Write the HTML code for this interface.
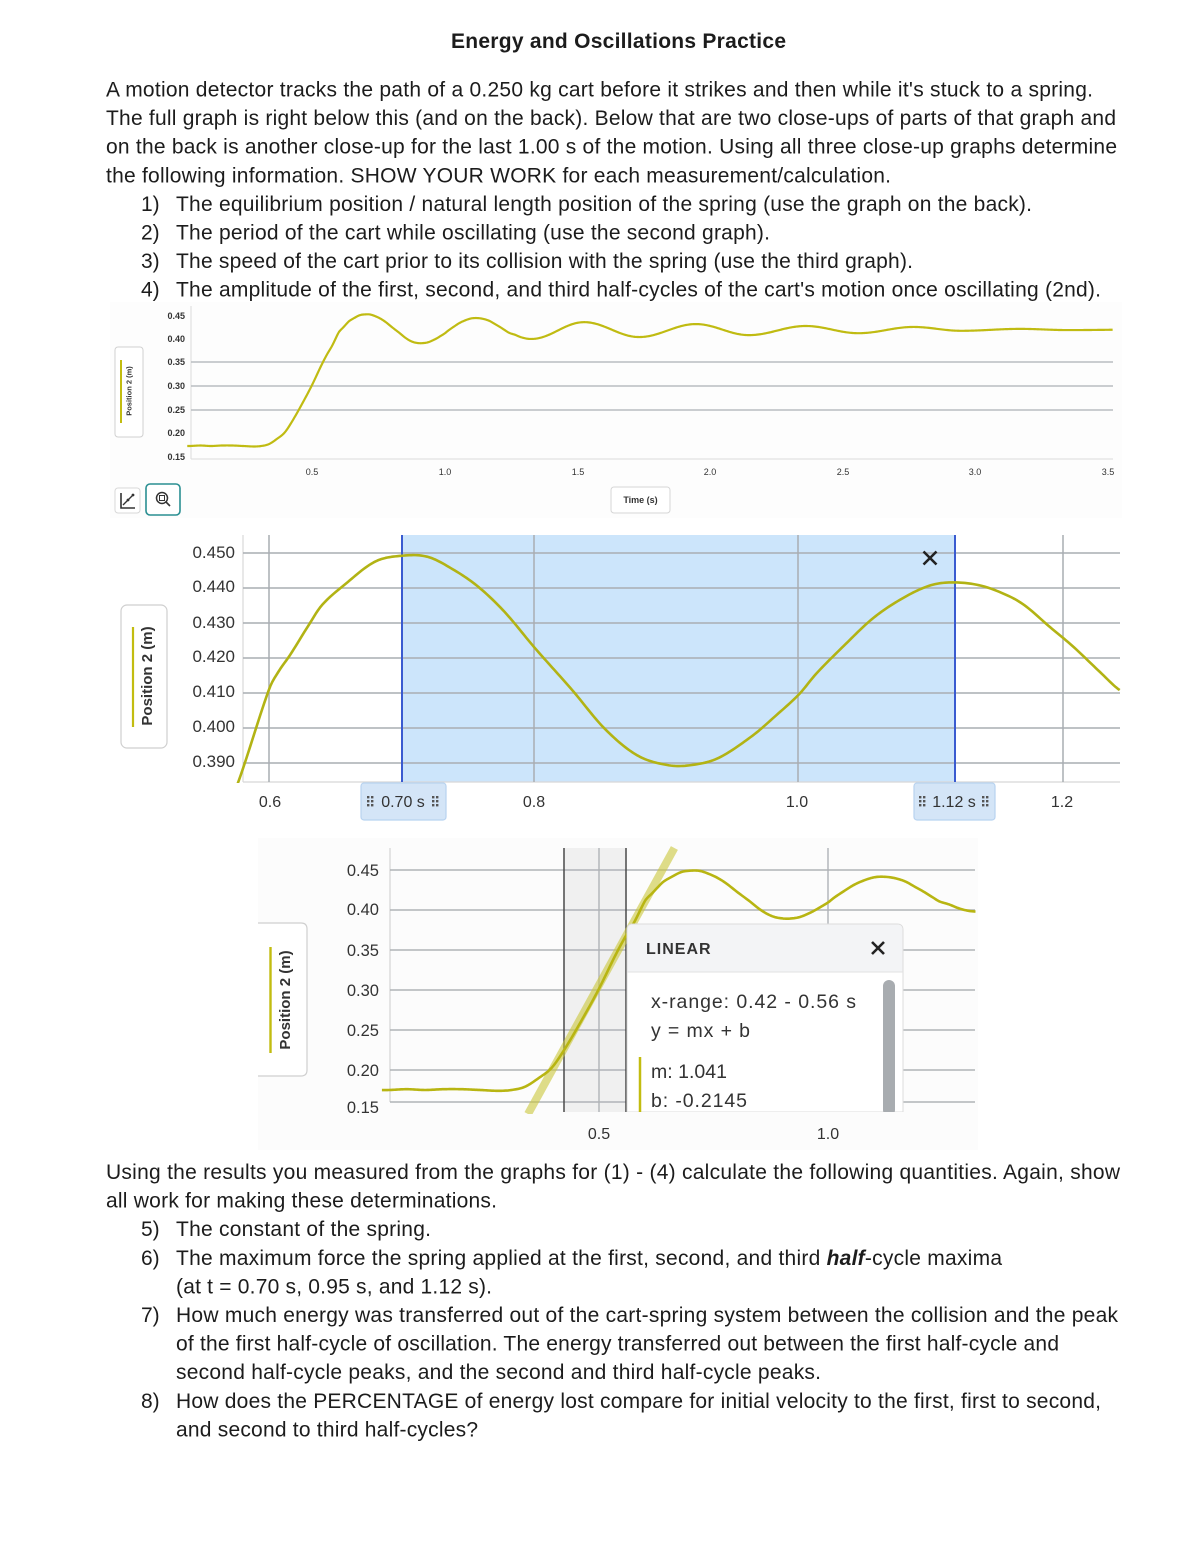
<!DOCTYPE html>
<html>
<head>
<meta charset="utf-8">
<style>
html,body{margin:0;padding:0;background:#fff;}
body{width:1200px;height:1553px;overflow:hidden;position:relative;}
svg{position:absolute;left:0;top:0;}
.t{font-family:"Liberation Sans",Arial,sans-serif;font-size:21px;fill:#1c1c1c;}
.tk{font-family:"Liberation Sans",Arial,sans-serif;fill:#333;}
</style>
</head>
<body>
<svg id="pg" width="1200" height="1553" viewBox="0 0 1200 1553" xmlns="http://www.w3.org/2000/svg">
<defs>
  <clipPath id="c1"><rect x="187" y="300" width="927" height="162"/></clipPath>
  <clipPath id="c2"><rect x="236" y="535" width="885" height="248"/></clipPath>
  <clipPath id="c3"><rect x="380" y="846" width="596" height="268"/></clipPath>
</defs>

<!-- ===== TEXT TOP ===== -->
<text class="t" x="451" y="48" font-size="20" font-weight="bold" textLength="335" lengthAdjust="spacing">Energy and Oscillations Practice</text>
<text class="t" x="106" y="96.5" textLength="987" lengthAdjust="spacing">A motion detector tracks the path of a 0.250 kg cart before it strikes and then while it's stuck to a spring.</text>
<text class="t" x="106" y="125.1" textLength="1010" lengthAdjust="spacing">The full graph is right below this (and on the back). Below that are two close-ups of parts of that graph and</text>
<text class="t" x="106" y="153.7" textLength="1011" lengthAdjust="spacing">on the back is another close-up for the last 1.00 s of the motion. Using all three close-up graphs determine</text>
<text class="t" x="106" y="182.3" textLength="785" lengthAdjust="spacing">the following information. SHOW YOUR WORK for each measurement/calculation.</text>
<text class="t" x="141" y="210.9">1)</text>
<text class="t" x="176" y="210.9" textLength="856" lengthAdjust="spacing">The equilibrium position / natural length position of the spring (use the graph on the back).</text>
<text class="t" x="141" y="239.5">2)</text>
<text class="t" x="176" y="239.5" textLength="594" lengthAdjust="spacing">The period of the cart while oscillating (use the second graph).</text>
<text class="t" x="141" y="268.1">3)</text>
<text class="t" x="176" y="268.1" textLength="737" lengthAdjust="spacing">The speed of the cart prior to its collision with the spring (use the third graph).</text>
<text class="t" x="141" y="296.7">4)</text>
<text class="t" x="176" y="296.7" textLength="925" lengthAdjust="spacing">The amplitude of the first, second, and third half-cycles of the cart's motion once oscillating (2nd).</text>

<!-- ===== CHART 1 (full graph) ===== -->
<g>
  <rect x="110" y="302" width="1012" height="216" fill="#fdfdfd"/>
  <line x1="191" y1="306" x2="191" y2="459" stroke="#dcdcdc" stroke-width="1"/>
  <line x1="191" y1="459" x2="1113" y2="459" stroke="#dcdcdc" stroke-width="1"/>
  <line x1="191" y1="362" x2="1113" y2="362" stroke="#b9bdc2" stroke-width="1.6"/>
  <line x1="191" y1="386" x2="1113" y2="386" stroke="#b9bdc2" stroke-width="1.6"/>
  <line x1="191" y1="410" x2="1113" y2="410" stroke="#b9bdc2" stroke-width="1.6"/>
  <g class="tk" font-size="9" font-weight="bold" fill="#666" text-anchor="end">
    <text x="185" y="319">0.45</text>
    <text x="185" y="342">0.40</text>
    <text x="185" y="365">0.35</text>
    <text x="185" y="389">0.30</text>
    <text x="185" y="413">0.25</text>
    <text x="185" y="436">0.20</text>
    <text x="185" y="460">0.15</text>
  </g>
  <g class="tk" font-size="9" fill="#888" text-anchor="middle">
    <text x="312" y="475">0.5</text>
    <text x="445" y="475">1.0</text>
    <text x="578" y="475">1.5</text>
    <text x="710" y="475">2.0</text>
    <text x="843" y="475">2.5</text>
    <text x="975" y="475">3.0</text>
    <text x="1108" y="475">3.5</text>
  </g>
  <!-- legend -->
  <rect x="115" y="347" width="28" height="90" rx="3" fill="#fff" stroke="#d0d0d0" stroke-width="1"/>
  <line x1="121" y1="360" x2="121" y2="423" stroke="#c2bc10" stroke-width="2"/>
  <text class="tk" font-size="7.5" font-weight="bold" fill="#444" text-anchor="middle" transform="translate(131.5,391) rotate(-90)">Position 2 (m)</text>
  <!-- toolbar -->
  <rect x="115" y="488" width="25" height="25" rx="3" fill="#fff" stroke="#d8d8d8"/>
  <path d="M121 493 V508 H135" stroke="#333" stroke-width="1.6" fill="none"/>
  <path d="M123 505 L128 500 L133 495" stroke="#333" stroke-width="1.4" fill="none"/>
  <circle cx="128" cy="500" r="1.4" fill="#333"/><circle cx="133" cy="495" r="1.4" fill="#333"/>
  <rect x="146" y="484" width="34" height="31" rx="4" fill="#fff" stroke="#2a8f92" stroke-width="1.6"/>
  <circle cx="162" cy="498" r="5.5" stroke="#333" stroke-width="1.5" fill="none"/>
  <rect x="159.5" y="495.5" width="5" height="5" stroke="#333" stroke-width="1" fill="none"/>
  <line x1="166" y1="502" x2="170" y2="506" stroke="#333" stroke-width="1.6"/>
  <rect x="611" y="487" width="59" height="26" rx="3" fill="#fff" stroke="#d6d6d6"/>
  <text class="tk" x="640.5" y="503" font-size="9" font-weight="bold" fill="#333" text-anchor="middle">Time (s)</text>
  <path id="p1" d="" fill="none" stroke="#c0bb12" stroke-width="2.2" clip-path="url(#c1)" stroke-linejoin="round"/>
</g>

<!-- ===== CHART 2 ===== -->
<g>
  <rect x="402" y="535" width="553" height="247" fill="#cce5fb"/>
  <line x1="243" y1="535" x2="243" y2="782" stroke="#d8d8d8" stroke-width="1.2"/>
  <line x1="243" y1="782" x2="1120" y2="782" stroke="#d8d8d8" stroke-width="1.2"/>
  <g stroke="#a9adb2" stroke-width="1.5">
    <line x1="243" y1="553" x2="1120" y2="553"/>
    <line x1="243" y1="588" x2="1120" y2="588"/>
    <line x1="243" y1="623" x2="1120" y2="623"/>
    <line x1="243" y1="658" x2="1120" y2="658"/>
    <line x1="243" y1="693" x2="1120" y2="693"/>
    <line x1="243" y1="728" x2="1120" y2="728"/>
    <line x1="243" y1="763" x2="1120" y2="763"/>
    <line x1="269" y1="535" x2="269" y2="782"/>
    <line x1="534" y1="535" x2="534" y2="782"/>
    <line x1="798" y1="535" x2="798" y2="782"/>
    <line x1="1063" y1="535" x2="1063" y2="782"/>
  </g>
  <line x1="402" y1="535" x2="402" y2="782" stroke="#3a5bd0" stroke-width="2"/>
  <line x1="955" y1="535" x2="955" y2="782" stroke="#3a5bd0" stroke-width="2"/>
  <g class="tk" font-size="17" text-anchor="end">
    <text x="235" y="558">0.450</text>
    <text x="235" y="592">0.440</text>
    <text x="235" y="628">0.430</text>
    <text x="235" y="662">0.420</text>
    <text x="235" y="697">0.410</text>
    <text x="235" y="732">0.400</text>
    <text x="235" y="767">0.390</text>
  </g>
  <g class="tk" font-size="16" text-anchor="middle">
    <text x="270" y="807">0.6</text>
    <text x="534" y="807">0.8</text>
    <text x="797" y="807">1.0</text>
    <text x="1062" y="807">1.2</text>
  </g>
  <!-- marker labels -->
  <rect x="361" y="783" width="85" height="37" rx="3" fill="#d4e5f7" stroke="#b8d3f0" stroke-width="1.2"/>
  <g fill="#555">
    <rect x="367" y="796" width="2.4" height="2.4"/><rect x="371" y="796" width="2.4" height="2.4"/>
    <rect x="367" y="800" width="2.4" height="2.4"/><rect x="371" y="800" width="2.4" height="2.4"/>
    <rect x="367" y="804" width="2.4" height="2.4"/><rect x="371" y="804" width="2.4" height="2.4"/>
    <rect x="432" y="796" width="2.4" height="2.4"/><rect x="436" y="796" width="2.4" height="2.4"/>
    <rect x="432" y="800" width="2.4" height="2.4"/><rect x="436" y="800" width="2.4" height="2.4"/>
    <rect x="432" y="804" width="2.4" height="2.4"/><rect x="436" y="804" width="2.4" height="2.4"/>
  </g>
  <text class="tk" x="403" y="807" font-size="16" text-anchor="middle">0.70 s</text>
  <rect x="914" y="783" width="81" height="37" rx="3" fill="#d4e5f7" stroke="#b8d3f0" stroke-width="1.2"/>
  <g fill="#555">
    <rect x="919" y="796" width="2.4" height="2.4"/><rect x="923" y="796" width="2.4" height="2.4"/>
    <rect x="919" y="800" width="2.4" height="2.4"/><rect x="923" y="800" width="2.4" height="2.4"/>
    <rect x="919" y="804" width="2.4" height="2.4"/><rect x="923" y="804" width="2.4" height="2.4"/>
    <rect x="982" y="796" width="2.4" height="2.4"/><rect x="986" y="796" width="2.4" height="2.4"/>
    <rect x="982" y="800" width="2.4" height="2.4"/><rect x="986" y="800" width="2.4" height="2.4"/>
    <rect x="982" y="804" width="2.4" height="2.4"/><rect x="986" y="804" width="2.4" height="2.4"/>
  </g>
  <text class="tk" x="954" y="807" font-size="16" text-anchor="middle">1.12 s</text>
  <!-- close X -->
  <path d="M923.5 551.5 L936.5 564.5 M936.5 551.5 L923.5 564.5" stroke="#222" stroke-width="2.6"/>
  <!-- legend -->
  <rect x="121" y="605" width="46" height="143" rx="6" fill="#fff" stroke="#cfcfcf" stroke-width="1.2"/>
  <line x1="133" y1="627" x2="133" y2="727" stroke="#c2bc10" stroke-width="2.2"/>
  <text class="tk" font-size="15" font-weight="bold" fill="#333" text-anchor="middle" transform="translate(152,676) rotate(-90)">Position 2 (m)</text>
  <path id="p2" d="" fill="none" stroke="#b2b314" stroke-width="2.6" clip-path="url(#c2)" stroke-linejoin="round"/>
</g>

<!-- ===== CHART 3 ===== -->
<g>
  <rect x="258" y="838" width="720" height="312" fill="#fcfcfc"/>
  <rect x="564" y="848" width="62" height="264" fill="#f0f0f0"/>
  <line x1="390" y1="848" x2="390" y2="1102" stroke="#d5d5d5" stroke-width="1.2"/>
  <g stroke="#b0b3b7" stroke-width="1.4">
    <line x1="390" y1="870" x2="975" y2="870"/>
    <line x1="390" y1="910" x2="975" y2="910"/>
    <line x1="390" y1="950" x2="975" y2="950"/>
    <line x1="390" y1="990" x2="975" y2="990"/>
    <line x1="390" y1="1030" x2="975" y2="1030"/>
    <line x1="390" y1="1070" x2="975" y2="1070"/>
    <line x1="390" y1="1102" x2="975" y2="1102"/>
    <line x1="599" y1="848" x2="599" y2="1112"/>
    <line x1="828" y1="848" x2="828" y2="1112"/>
  </g>
  <line x1="564" y1="848" x2="564" y2="1112" stroke="#4a4a4a" stroke-width="1.5"/>
  <line x1="626" y1="848" x2="626" y2="1112" stroke="#4a4a4a" stroke-width="1.5"/>
  <line x1="528" y1="1114" x2="674.4" y2="848" stroke="#c9c63a" stroke-opacity="0.6" stroke-width="8" clip-path="url(#c3)"/>
  <g class="tk" font-size="16.5" text-anchor="end">
    <text x="379" y="876">0.45</text>
    <text x="379" y="915">0.40</text>
    <text x="379" y="956">0.35</text>
    <text x="379" y="996">0.30</text>
    <text x="379" y="1036">0.25</text>
    <text x="379" y="1076">0.20</text>
    <text x="379" y="1113">0.15</text>
  </g>
  <g class="tk" font-size="16" text-anchor="middle">
    <text x="599" y="1139">0.5</text>
    <text x="828" y="1139">1.0</text>
  </g>
  <!-- legend -->
  <path d="M258 923 H301 Q307 923 307 929 V1070 Q307 1076 301 1076 H258" fill="#fff" stroke="#cfcfcf" stroke-width="1.2"/>
  <line x1="270.5" y1="947" x2="270.5" y2="1053" stroke="#c2bc10" stroke-width="2.4"/>
  <text class="tk" font-size="15" font-weight="bold" fill="#333" text-anchor="middle" transform="translate(290,1000) rotate(-90)">Position 2 (m)</text>
  <path id="p3" d="" fill="none" stroke="#b8b512" stroke-width="2.6" clip-path="url(#c3)" stroke-linejoin="round"/>
  <!-- LINEAR panel -->
  <path d="M627 1112 V930 Q627 924 633 924 H897 Q903 924 903 930 V1112 Z" fill="#fff" stroke="#dcdcdc" stroke-width="1"/>
  <path d="M627.5 972 V930 Q627.5 924.5 633 924.5 H897 Q902.5 924.5 902.5 930 V972 Z" fill="#f3f4f6"/>
  <line x1="627" y1="972" x2="903" y2="972" stroke="#e2e2e2" stroke-width="1"/>
  <text class="tk" x="646" y="954" font-size="16" font-weight="bold" fill="#333" letter-spacing="1">LINEAR</text>
  <path d="M872 942 L884 954 M884 942 L872 954" stroke="#222" stroke-width="2.6"/>
  <text class="tk" x="651" y="1008" font-size="19.5" fill="#333" textLength="205" lengthAdjust="spacing">x-range: 0.42 - 0.56 s</text>
  <text class="tk" x="651" y="1037" font-size="19.5" fill="#333" textLength="99" lengthAdjust="spacing">y = mx + b</text>
  <line x1="640" y1="1057" x2="640" y2="1112" stroke="#c2bc10" stroke-width="2.5"/>
  <text class="tk" x="651" y="1078" font-size="19.5" fill="#333" textLength="76" lengthAdjust="spacing">m: 1.041</text>
  <text class="tk" x="651" y="1107" font-size="19.5" fill="#333" textLength="96" lengthAdjust="spacing">b: -0.2145</text>
  <rect x="883" y="980" width="12" height="136" rx="6" fill="#a8acb0"/>
  <rect x="620" y="1112" width="290" height="6" fill="#fcfcfc"/>
</g>

<!-- ===== TEXT BOTTOM ===== -->
<text class="t" x="106" y="1179" textLength="1014" lengthAdjust="spacing">Using the results you measured from the graphs for (1) - (4) calculate the following quantities. Again, show</text>
<text class="t" x="106" y="1207.6" textLength="391" lengthAdjust="spacing">all work for making these determinations.</text>
<text class="t" x="141" y="1236.2">5)</text>
<text class="t" x="176" y="1236.2" textLength="255" lengthAdjust="spacing">The constant of the spring.</text>
<text class="t" x="141" y="1264.8">6)</text>
<text class="t" x="176" y="1264.8" textLength="826" lengthAdjust="spacing">The maximum force the spring applied at the first, second, and third <tspan font-weight="bold" font-style="italic">half</tspan>-cycle maxima</text>
<text class="t" x="176" y="1293.4" textLength="316" lengthAdjust="spacing">(at t = 0.70 s, 0.95 s, and 1.12 s).</text>
<text class="t" x="141" y="1322">7)</text>
<text class="t" x="176" y="1322" textLength="942" lengthAdjust="spacing">How much energy was transferred out of the cart-spring system between the collision and the peak</text>
<text class="t" x="176" y="1350.6" textLength="883" lengthAdjust="spacing">of the first half-cycle of oscillation. The energy transferred out between the first half-cycle and</text>
<text class="t" x="176" y="1379.2" textLength="645" lengthAdjust="spacing">second half-cycle peaks, and the second and third half-cycle peaks.</text>
<text class="t" x="141" y="1407.8">8)</text>
<text class="t" x="176" y="1407.8" textLength="925" lengthAdjust="spacing">How does the PERCENTAGE of energy lost compare for initial velocity to the first, first to second,</text>
<text class="t" x="176" y="1436.4" textLength="302" lengthAdjust="spacing">and second to third half-cycles?</text>
</svg>

<script>
(function(){
var S=[[0.00,0.175],[0.04,0.175],[0.08,0.176],[0.12,0.175],[0.16,0.176],[0.20,0.176],[0.24,0.175],[0.28,0.174],[0.309,0.175],[0.338,0.179],[0.3675,0.1896],[0.397,0.203],[0.426,0.227],[0.462,0.262],[0.4985,0.300],[0.535,0.3425],[0.557,0.366],[0.5768,0.3846],[0.600,0.411],[0.607,0.416],[0.616,0.4209],[0.630,0.4294],[0.640,0.4351],[0.657,0.4409],[0.680,0.4475],[0.700,0.4492],[0.720,0.4489],[0.740,0.4451],[0.758,0.4404],[0.778,0.4332],[0.8011,0.4228],[0.8288,0.4110],[0.8540,0.3997],[0.8783,0.3922],[0.9013,0.3894],[0.9191,0.3894],[0.9395,0.3914],[0.9651,0.3977],[0.9830,0.4035],[1.0008,0.4097],[1.0136,0.4155],[1.0340,0.4233],[1.0570,0.4315],[1.0800,0.4373],[1.1004,0.4408],[1.1183,0.4416],[1.1388,0.4406],[1.1592,0.4377],[1.1720,0.4348],[1.1898,0.4290],[1.2077,0.4233],[1.2281,0.4160],[1.2435,0.4107]];
var E=[[1.1183,0.4416],[1.327,0.398],[1.526,0.433],[1.733,0.402],[1.947,0.429],[2.147,0.406],[2.361,0.425],[2.56,0.410],[2.767,0.423],[2.947,0.415],[3.17,0.419],[3.35,0.4165],[3.7,0.418]];
function cosv(t){
  for(var i=0;i<E.length-1;i++){
    if(t>=E[i][0]&&t<=E[i+1][0]){
      var f=(t-E[i][0])/(E[i+1][0]-E[i][0]);
      return E[i][1]+(E[i+1][1]-E[i][1])*(1-Math.cos(Math.PI*f))/2;
    }
  }
  return 0.418;
}
for(var t=1.265;t<3.7;t+=0.02){S.push([t,cosv(t)]);}
var n=S.length;
function val(t){
  if(t<=S[0][0])return S[0][1];
  if(t>=S[n-1][0])return S[n-1][1];
  var i=0;
  while(i<n-2&&S[i+1][0]<=t)i++;
  var p0=S[Math.max(i-1,0)],p1=S[i],p2=S[i+1],p3=S[Math.min(i+2,n-1)];
  var m1=(p2[1]-p0[1])/(p2[0]-p0[0]);
  var m2=(p3[1]-p1[1])/(p3[0]-p1[0]);
  var h=p2[0]-p1[0],s=(t-p1[0])/h;
  var s2=s*s,s3=s2*s;
  return (2*s3-3*s2+1)*p1[1]+(s3-2*s2+s)*h*m1+(-2*s3+3*s2)*p2[1]+(s3-s2)*h*m2;
}
function build(id,fx,fy,t0,t1,dt){
  var d="";
  for(var t=t0;t<=t1+1e-9;t+=dt){
    var x=fx(t),y=fy(val(t));
    d+=(d?"L":"M")+x.toFixed(2)+" "+y.toFixed(2);
  }
  document.getElementById(id).setAttribute("d",d);
}
build("p1",function(t){return 179.3+265.3*t;},function(v){return 458-(v-0.15)*480;},0.03,3.52,0.004);
build("p2",function(t){return 269+(t-0.6)*1323;},function(v){return 553+(0.45-v)*3500;},0.5755,1.2440,0.0015);
build("p3",function(t){return 370+458*t;},function(v){return 870+(0.45-v)*800;},0.026,1.323,0.003);
})();
</script>
</body>
</html>
